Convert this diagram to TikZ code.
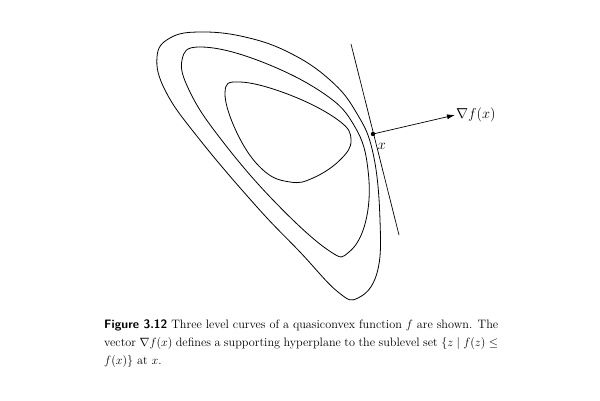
\documentclass[tikz,border=0pt]{standalone}
\usepackage{amsmath,amssymb}
\usetikzlibrary{arrows.meta}
\begin{document}
\begin{tikzpicture}[x=1pt,y=-1pt,curve/.style={line width=0.8pt,smooth cycle,tension=0.7}]
\useasboundingbox (0,0) rectangle (600,401);
\draw[curve] plot coordinates {(157,57) (170,38) (200,32) (245,37) (290,53) (330,80) (356,112) (373,153) (380,220) (377,273) (358,298) (338,292) (300,252) (257,207) (200,140) (166,92)};
\draw[curve] plot coordinates {(182,60) (200,47) (257,60) (323,93) (355,127) (368,170) (366,220) (349,252) (328,250) (273,200) (220,138) (190,92)};
\draw[curve] plot coordinates {(225,93) (240,82) (290,95) (338,120) (351,140) (340,160) (313,178) (290,182) (263,170) (238,135)};
\coordinate (t1) at (351,44); \coordinate (t2) at (399,235);
\draw[line width=0.7pt] (t1) -- (t2);
\fill (373,134) circle (2.2) coordinate (x);
\node[font=\fontsize{14}{16}\selectfont] (xl) at (382,146) {$x$};
\coordinate (g) at (455,115);
\draw[line width=0.7pt,-{Latex[length=8pt,width=5pt]}] (x) -- (g);
\node[right,inner sep=1pt,font=\fontsize{14}{16}\selectfont] (gl) at (g) {$\nabla f(x)$};
\node[anchor=north west,text width=394pt,inner sep=0,font=\fontsize{12.2}{18}\selectfont,align=justify] (cap) at (104,320) {\textsf{\bfseries Figure 3.12} Three level curves of a quasiconvex function $f$ are shown. The vector $\nabla f(x)$ defines a supporting hyperplane to the sublevel set $\{z\mid f(z)\le\break f(x)\}$ at $x$.};
\end{tikzpicture}
\end{document}
